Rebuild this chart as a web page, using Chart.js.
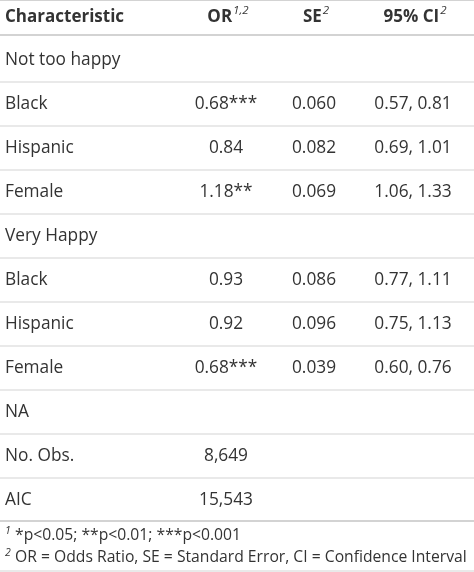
<!DOCTYPE html>
<html>
<head>
<meta charset="utf-8">
<script src="https://cdn.jsdelivr.net/npm/chart.js@4/dist/chart.umd.min.js"></script>
<style>
  body { margin: 0; background: #fff; }
</style>
</head>
<body>
<canvas id="myChart" width="474" height="572"></canvas>
<script>
// table content
const headers = ['Characteristic', 'OR', 'SE', '95% CI'];
const headerSups = ['', '1,2', '2', '2'];
const rowLabels = ['Not too happy', 'Black', 'Hispanic', 'Female', 'Very Happy', 'Black', 'Hispanic', 'Female', 'NA', 'No. Obs.', 'AIC'];
const orValues = ['', '0.68***', '0.84', '1.18**', '', '0.93', '0.92', '0.68***', '', '8,649', '15,543'];
const seValues = ['', '0.060', '0.082', '0.069', '', '0.086', '0.096', '0.039', '', '', ''];
const ciValues = ['', '0.57, 0.81', '0.69, 1.01', '1.06, 1.33', '', '0.77, 1.11', '0.75, 1.13', '0.60, 0.76', '', '', ''];
const footnoteSups = ['1', '2'];
const footnotes = ['*p<0.05; **p<0.01; ***p<0.001', 'OR = Odds Ratio, SE = Standard Error, CI = Confidence Interval'];

const FONT = '"Open Sans", sans-serif';
const TEXT = '#333333';

const tablePlugin = {
    id: 'tableDraw',
    afterDraw(chart) {
        const c = chart.ctx;
        const x = chart.scales.x, y = chart.scales.y;
        const px = v => x.getPixelForValue(v);
        const py = v => y.getPixelForValue(v);
        const colCenters = [null, 226, 314, 413];

        const line = (yy, w, color) => {
            c.strokeStyle = color; c.lineWidth = w;
            c.beginPath(); c.moveTo(px(0), py(yy)); c.lineTo(px(474), py(yy)); c.stroke();
        };

        c.save();
        c.textBaseline = 'middle';

        // header
        const hy = 17;
        headers.forEach((h, i) => {
            c.font = 'bold 17px ' + FONT;
            c.fillStyle = TEXT;
            const w = c.measureText(h).width;
            c.font = 'italic 11.5px ' + FONT;
            const sw = headerSups[i] ? c.measureText(headerSups[i]).width + 1 : 0;
            let sx = i === 0 ? 5 : colCenters[i] - (w + sw) / 2 + 2;
            c.font = 'bold 17px ' + FONT;
            c.textAlign = 'left';
            c.fillText(h, px(sx), py(hy));
            if (headerSups[i]) {
                c.font = 'italic 11.5px ' + FONT;
                c.fillText(headerSups[i], px(sx + w + 1), py(hy - 6));
            }
        });
        line(0.5, 1, '#d3d3d3');
        line(35, 2, '#d3d3d3');

        // body rows
        const top = 38, rh = 44;
        rowLabels.forEach((lab, r) => {
            const cy = top + rh * r + rh / 2;
            c.font = '17.3px ' + FONT;
            c.fillStyle = TEXT;
            c.textAlign = 'left';
            c.fillText(lab, px(5), py(cy));
            c.textAlign = 'center';
            [orValues[r], seValues[r], ciValues[r]].forEach((v, k) => {
                if (v) c.fillText(v, px(colCenters[k + 1]), py(cy));
            });
            if (r > 0) line(top + rh * r, 1, '#d3d3d3');
        });
        line(top + rh * rowLabels.length - 1, 2, '#d3d3d3');

        // footnotes
        const fy0 = top + rh * rowLabels.length + 14;
        footnotes.forEach((f, i) => {
            const fy = fy0 + i * 22;
            c.textAlign = 'left';
            c.font = 'italic 10.5px ' + FONT;
            c.fillText(footnoteSups[i], px(5), py(fy - 5));
            c.font = '15.7px ' + FONT;
            c.fillText(f, px(15), py(fy));
        });
        line(571, 1, '#d3d3d3');
        c.restore();
    }
};

new Chart(document.getElementById('myChart').getContext('2d'), {
    type: 'scatter',
    data: { datasets: [{ data: [] }] },
    options: {
        responsive: false,
        animation: false,
        layout: { padding: 0 },
        plugins: { legend: { display: false }, tooltip: { enabled: false } },
        scales: {
            x: { type: 'linear', min: 0, max: 474, display: false },
            y: { type: 'linear', min: 0, max: 572, reverse: true, display: false }
        }
    },
    plugins: [tablePlugin]
});
</script>
</body>
</html>
